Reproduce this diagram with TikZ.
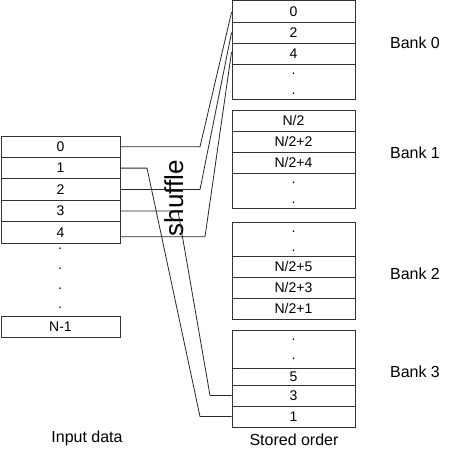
\documentclass[tikz,border=0pt]{standalone}
\usepackage{fontspec}
\setmainfont{Liberation Sans}
\begin{document}
\begin{tikzpicture}[x=1pt,y=-1pt,
  cell/.style={draw=black!80,line width=0.9pt,inner sep=0pt,font=\fontsize{14}{16}\selectfont},
  incell/.style={cell,minimum width=119pt},
  stcell/.style={cell,minimum width=123pt},
  dotc/.style={anchor=base,inner sep=0pt,font=\fontsize{14}{16}\selectfont},
  lbl/.style={inner sep=0pt,font=\fontsize{16}{18}\selectfont},
  wire/.style={draw=black!85,line width=0.8pt}]
\useasboundingbox (0,0) rectangle (474,461);
% input data
\node[incell,minimum height=21.4pt] (in0) at (60.5,146.7) {0};
\node[incell,minimum height=21.4pt] (in1) at (60.5,168.1) {1};
\node[incell,minimum height=21.4pt] (in2) at (60.5,189.5) {2};
\node[incell,minimum height=21.4pt] (in3) at (60.5,210.9) {3};
\node[incell,minimum height=21.4pt] (in4) at (60.5,232.3) {4};
\node[dotc] (id1) at (60,249.5) {.};
\node[dotc] (id2) at (60,269) {.};
\node[dotc] (id3) at (60,289) {.};
\node[dotc] (id4) at (60,308.5) {.};
\node[incell,minimum height=21pt] (inN) at (60.5,326.5) {N-1};
\node[lbl] (inlbl) at (87,438) {Input data};
% bank 0
\node[stcell,minimum height=21.5pt] (s0) at (293.5,11.25) {0};
\node[stcell,minimum height=21pt] (s2) at (293.5,32.5) {2};
\node[stcell,minimum height=21pt] (s4) at (293.5,53.5) {4};
\node[stcell,minimum height=35pt] (b0d) at (293.5,81.5) {};
\node[dotc] at (293.5,74) {.};
\node[dotc] at (293.5,94) {.};
% bank 1
\node[stcell,minimum height=21pt] (h0) at (293.5,120.5) {N/2};
\node[stcell,minimum height=21pt] (h2) at (293.5,141.5) {N/2+2};
\node[stcell,minimum height=21pt] (h4) at (293.5,162.5) {N/2+4};
\node[stcell,minimum height=35pt] (b1d) at (293.5,190.5) {};
\node[dotc] at (293.5,183) {.};
\node[dotc] at (293.5,203) {.};
% bank 2
\node[stcell,minimum height=34pt] (b2d) at (293.5,239) {};
\node[dotc] at (293.5,232) {.};
\node[dotc] at (293.5,251) {.};
\node[stcell,minimum height=21pt] (h5) at (293.5,266.5) {N/2+5};
\node[stcell,minimum height=21pt] (h3) at (293.5,287.5) {N/2+3};
\node[stcell,minimum height=21pt] (h1) at (293.5,308.5) {N/2+1};
% bank 3
\node[stcell,minimum height=38pt] (b3d) at (293.5,349) {};
\node[dotc] at (293.5,340) {.};
\node[dotc] at (293.5,359) {.};
\node[stcell,minimum height=17pt] (s5) at (293.5,376.5) {5};
\node[stcell,minimum height=21pt] (s3) at (293.5,395.5) {3};
\node[stcell,minimum height=21pt] (s1) at (293.5,416.5) {1};
\node[lbl] (stlbl) at (294,440) {Stored order};
% bank labels
\node[lbl] (bk0) at (415,43) {Bank 0};
\node[lbl] (bk1) at (415,153) {Bank 1};
\node[lbl] (bk2) at (415,274) {Bank 2};
\node[lbl] (bk3) at (415,372) {Bank 3};
% shuffle
\node[rotate=90,anchor=base,inner sep=0pt,font=\fontsize{26}{28}\selectfont] (shuf) at (183,198) {shuffle};
% connectors
\draw[wire] (in0.east) -- (200,146.7) -- ([yshift=-1pt]s0.west);
\draw[wire] (in2.east) -- (200,189.5) -- (s2.west);
\draw[wire] ([yshift=-4.5pt]in4.east) -- (205,236.8) -- ([yshift=1.5pt]s4.west);
\draw[wire] (in1.east) -- (147,168.1) -- (200,416.5) -- (s1.west);
\draw[wire] (in3.east) -- (178,210.9) -- (210,395.5) -- (s3.west);
\end{tikzpicture}
\end{document}
